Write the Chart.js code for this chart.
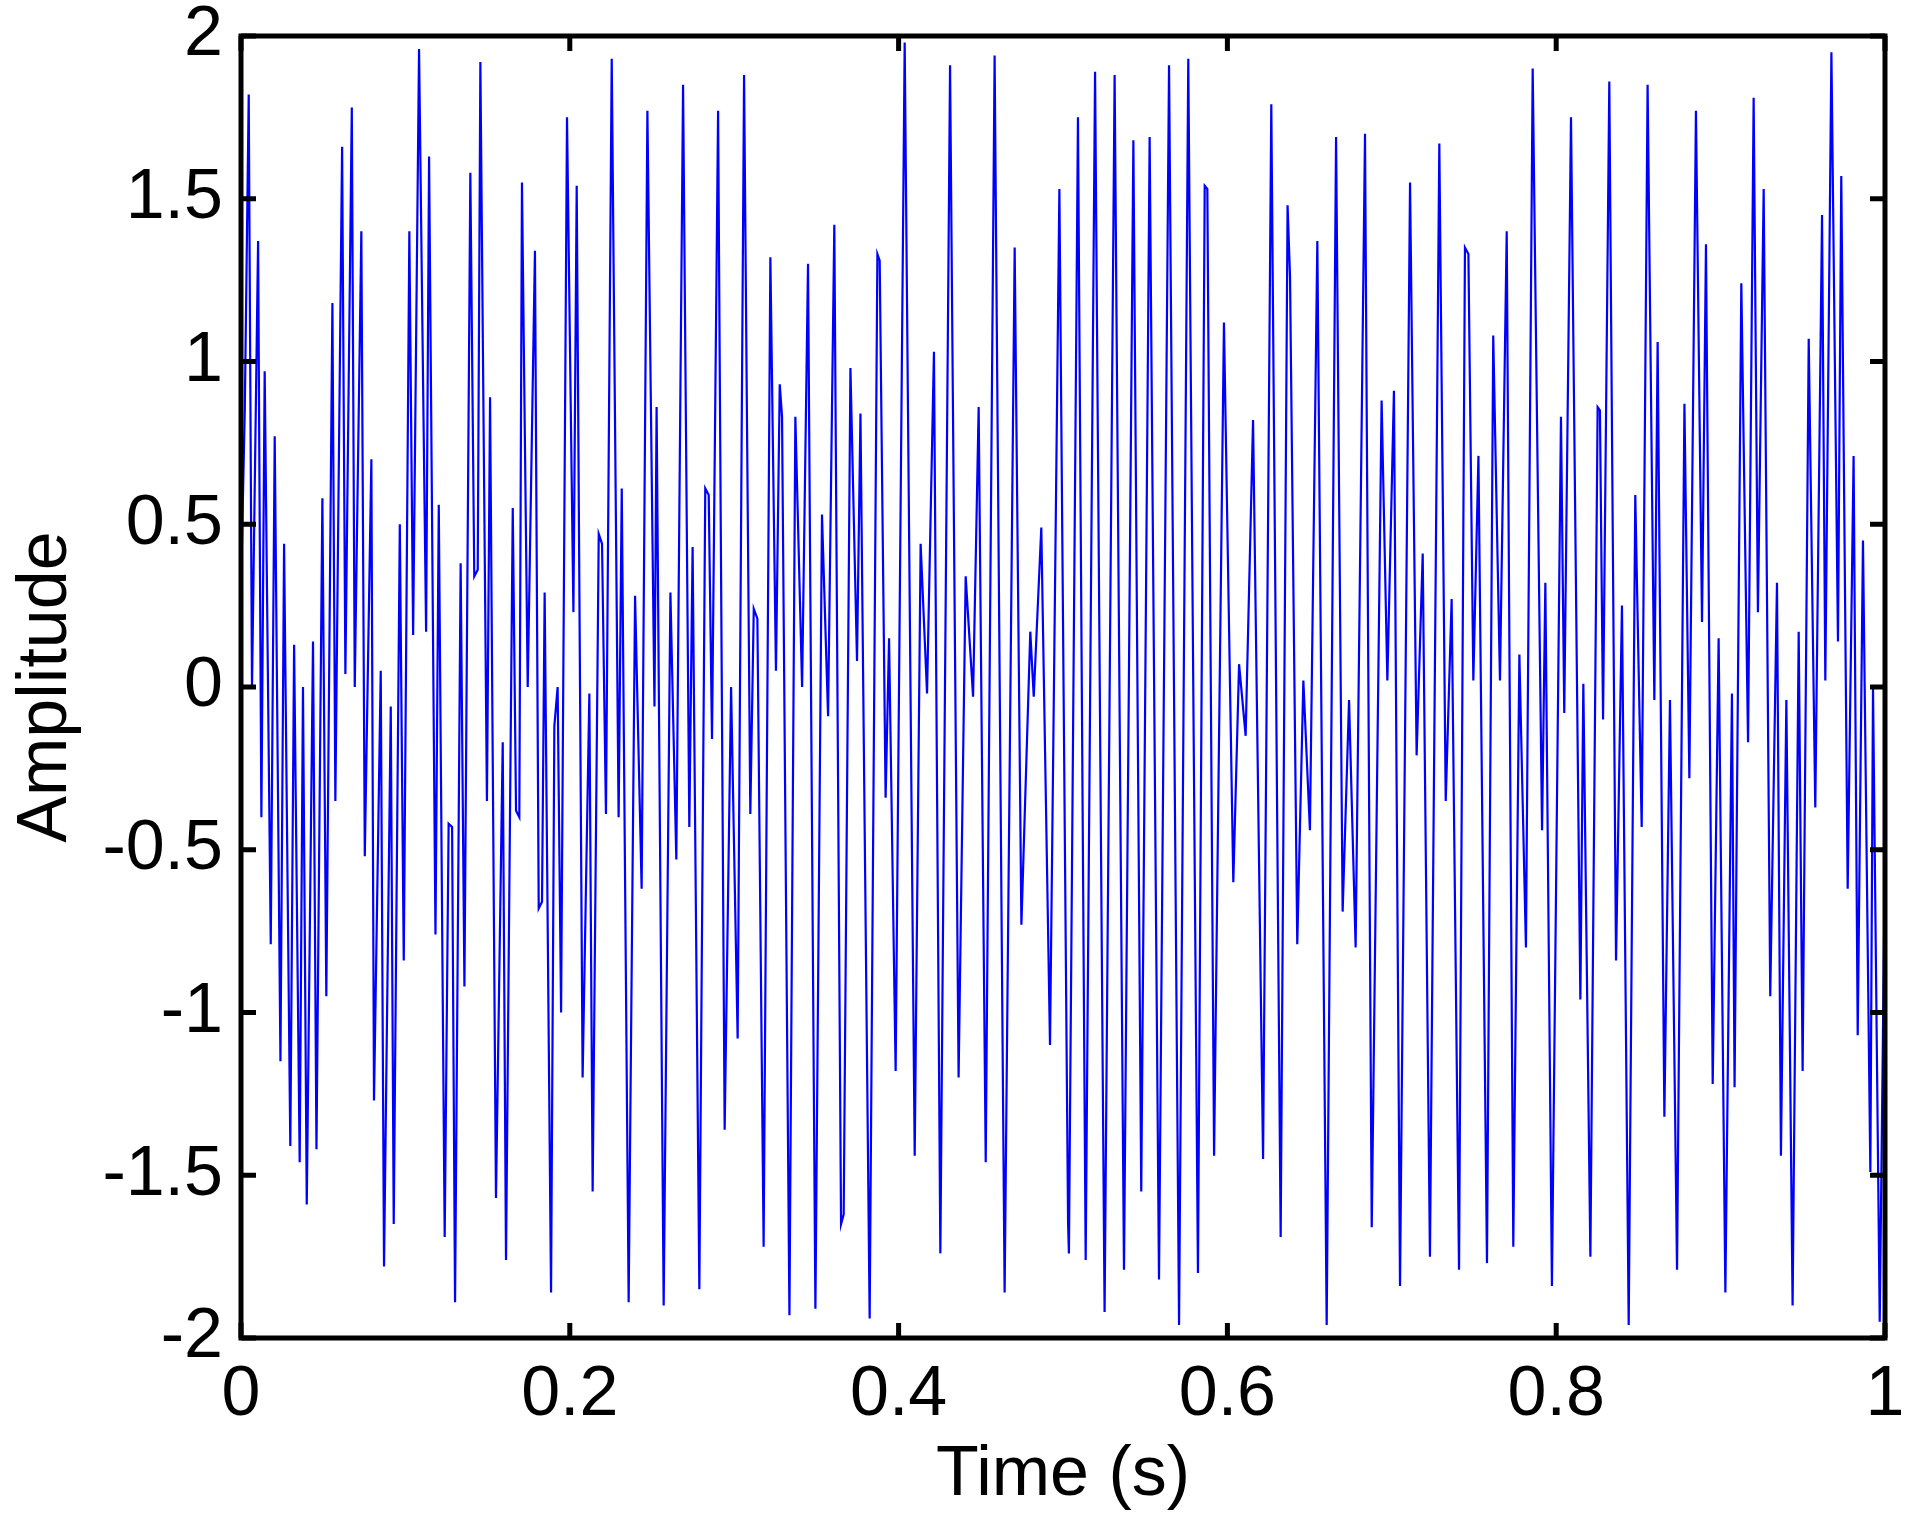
<!DOCTYPE html>
<html>
<head>
<meta charset="utf-8">
<script src="https://cdn.jsdelivr.net/npm/chart.js@4.4.1/dist/chart.umd.min.js"></script>
<style>
  html, body { margin: 0; padding: 0; background: #fff; }
  #wrap { width: 1912px; height: 1524px; position: relative; }
</style>
</head>
<body>
<div id="wrap"><canvas id="signalCanvas"></canvas></div>
<script>
// time of each turning point of the trace (s)
var timeS = [
	0, 0.0023, 0.0047, 0.0067, 0.0104, 0.0124, 0.0144, 0.0181, 0.0205, 0.0240, 0.0262, 0.0300, 0.0323, 0.0357, 0.0377,
	0.0400, 0.0438, 0.0459, 0.0495, 0.0519, 0.0556, 0.0574, 0.0615, 0.0635, 0.0674, 0.0692, 0.0732, 0.0753, 0.0793,
	0.0809, 0.0850, 0.0870, 0.0911, 0.0929, 0.0966, 0.0990, 0.1024, 0.1047, 0.1083, 0.1126, 0.1144, 0.1183, 0.1203, 0.1239,
	0.1263, 0.1284, 0.1302, 0.1336, 0.1359, 0.1395, 0.1419, 0.1440, 0.1456, 0.1496, 0.1515, 0.1551, 0.1592, 0.1612,
	0.1653, 0.1673, 0.1693, 0.1709, 0.1744, 0.1788, 0.1811, 0.1831, 0.1847, 0.1886, 0.1906, 0.1926, 0.1947, 0.1983,
	0.2022, 0.2042, 0.2078, 0.2119, 0.2139, 0.2176, 0.2196, 0.2220, 0.2255, 0.2297, 0.2316, 0.2358, 0.2397, 0.2437, 0.2472, 0.2515,
	0.2528, 0.2571, 0.2612, 0.2648, 0.2689, 0.2727, 0.2747, 0.2788, 0.2824, 0.2845, 0.2865, 0.2902, 0.2942, 0.2981,
	0.3021, 0.3060, 0.3098, 0.3119, 0.3141, 0.3179, 0.3220, 0.3254, 0.3277, 0.3291, 0.3336, 0.3372, 0.3413, 0.3449,
	0.3494, 0.3534, 0.3571, 0.3609, 0.3650, 0.3666, 0.3707, 0.3747, 0.3768,
	0.3824, 0.3871, 0.3885, 0.3921, 0.3942, 0.3982, 0.4037, 0.4098, 0.4134, 0.4173, 0.4215, 0.4254, 0.4313, 0.4365,
	0.4408, 0.4453, 0.4487, 0.4530, 0.4584, 0.4645, 0.4706, 0.4747, 0.4801, 0.4822, 0.4868, 0.4921, 0.4978, 0.5031,
	0.5036, 0.5091, 0.5138, 0.5195, 0.5253, 0.5314, 0.5371, 0.5428, 0.5476, 0.5527, 0.5584, 0.5645, 0.5706, 0.5762,
	0.5821, 0.5862, 0.5878, 0.5919, 0.5979, 0.6036, 0.6071, 0.6111, 0.6156, 0.6217, 0.6267,
	0.6324, 0.6366, 0.6381, 0.6425, 0.6462, 0.6502, 0.6547, 0.6604, 0.6661, 0.6701, 0.6740, 0.6780, 0.6837, 0.6878,
	0.6938, 0.6973, 0.7013, 0.7050, 0.7111, 0.7151, 0.7188, 0.7232, 0.7289, 0.7328, 0.7364, 0.7409, 0.7445, 0.7466, 0.7496, 0.7527,
	0.7579, 0.7617, 0.7658, 0.7699, 0.7739, 0.7776, 0.7816, 0.7857, 0.7914, 0.7934, 0.7974, 0.8029, 0.8049, 0.8090,
	0.8147, 0.8165, 0.8208, 0.8252, 0.8266, 0.8285, 0.8323, 0.8364, 0.8400, 0.8441, 0.8481, 0.8520, 0.8556, 0.8597,
	0.8617, 0.8658, 0.8692, 0.8735, 0.8780,
	0.8810, 0.8850, 0.8887, 0.8911, 0.8952, 0.8988, 0.9029, 0.9069, 0.9085, 0.9126, 0.9167, 0.9201, 0.9227, 0.9262,
	0.9302, 0.9343, 0.9367, 0.9400, 0.9438, 0.9475, 0.9499, 0.9536, 0.9576, 0.9617, 0.9637, 0.9674, 0.9714, 0.9734,
	0.9773, 0.9809, 0.9834, 0.9866, 0.9911, 0.9927, 0.9968, 1.0
];

var amplitude = [
	0.30, 0.85, 1.82, 0.00, 1.37, -0.40, 0.97, -0.79, 0.77, -1.15, 0.44, -1.41, 0.13, -1.46, 0.00,
	-1.59, 0.14, -1.42, 0.58, -0.95, 1.18, -0.35, 1.66, 0.04, 1.78, 0.00, 1.40, -0.52, 0.70,
	-1.27, 0.05, -1.78, -0.06, -1.65, 0.50, -0.84, 1.40, 0.16, 1.96, 0.17, 1.63, -0.76, 0.56, -1.69,
	-0.42, -0.43, -1.89, 0.38, -0.92, 1.58, 0.34, 0.36, 1.92, -0.35, 0.89, -1.57, -0.17, -1.76,
	0.55, -0.38, -0.40, 1.55, 0.00, 1.34, -0.68, -0.66, 0.29, -1.86, -0.12, 0.00, -1.00, 1.75,
	0.23, 1.54, -1.20, -0.02, -1.55, 0.47, 0.44, -0.39, 1.93, -0.40, 0.61, -1.89, 0.28, -0.62, 1.77, -0.06,
	0.86, -1.90, 0.29, -0.53, 1.85, -0.43, 0.43, -1.85, 0.61, 0.59, -0.16, 1.77, -1.36, 0.00,
	-1.08, 1.88, -0.39, 0.24, 0.21, -1.72, 1.32, 0.05, 0.93, 0.83, -1.93, 0.83, 0.00, 1.30,
	-1.91, 0.53, -0.09, 1.42, -1.65, -1.62, 0.98, 0.08, 0.84,
	-1.94, 1.33, 1.31, -0.34, 0.15, -1.18, 1.98, -1.44, 0.44, -0.02, 1.03, -1.74, 1.91, -1.20,
	0.34, -0.03, 0.86, -1.46, 1.94, -1.86, 1.35, -0.73, 0.17, -0.03, 0.49, -1.10, 1.53, -1.65,
	-1.74, 1.75, -1.76, 1.89, -1.92, 1.88, -1.79, 1.68, -1.55, 1.69, -1.82, 1.91, -1.96, 1.93,
	-1.80, 1.54, 1.53, -1.44, 1.12, -0.60, 0.07, -0.15, 0.82, -1.45, 1.79,
	-1.69, 1.48, 1.26, -0.79, 0.02, -0.44, 1.37, -1.96, 1.69, -0.69, -0.04, -0.80, 1.70, -1.66,
	0.88, 0.02, 0.91, -1.84, 1.55, -0.21, 0.41, -1.75, 1.67, -0.35, 0.27, -1.79, 1.35, 1.33, 0.02, 0.71,
	-1.77, 1.08, 0.02, 1.40, -1.72, 0.10, -0.80, 1.90, -0.44, 0.32, -1.84, 0.83, -0.08, 1.75,
	-0.96, 0.01, -1.75, 0.86, 0.85, -0.10, 1.86, -0.84, 0.25, -1.96, 0.59, -0.43, 1.85, -0.04,
	1.06, -1.32, -0.04, -1.79, 0.87,
	-0.28, 1.77, 0.20, 1.36, -1.22, 0.15, -1.86, -0.02, -1.23, 1.24, -0.17, 1.81, 0.23, 1.53,
	-0.95, 0.32, -1.44, -0.04, -1.90, 0.17, -1.18, 1.07, -0.37, 1.45, 0.02, 1.95, 0.14, 1.57,
	-0.62, 0.71, -1.07, 0.45, -1.49, 0.00, -1.95, -0.50
];

var xTickValues = [0, 0.2, 0.4, 0.6, 0.8, 1];
var yTickValues = [-2, -1.5, -1, -0.5, 0, 0.5, 1, 1.5, 2];
var xTitle = 'Time (s)';
var yTitle = 'Amplitude';

var fontFamily = '"Liberation Sans", Arial, Helvetica, sans-serif';

function fmtTick(v) {
	return String(Math.round(v * 10) / 10);
}

// MATLAB style box with inward ticks on all four sides
var boxTicks = {
	id: 'boxTicks',
	afterDatasetsDraw: function(chart) {
		var ctx = chart.ctx;
		var a = chart.chartArea;
		var xs = chart.scales.x;
		var ys = chart.scales.y;
		var len = 15;
		ctx.save();
		ctx.strokeStyle = '#000';
		ctx.lineWidth = 5;
		ctx.beginPath();
		for (var i = 0; i < xs.ticks.length; i++) {
			var px = xs.getPixelForValue(xs.ticks[i].value);
			ctx.moveTo(px, a.bottom); ctx.lineTo(px, a.bottom - len);
			ctx.moveTo(px, a.top); ctx.lineTo(px, a.top + len);
		}
		for (var j = 0; j < ys.ticks.length; j++) {
			var py = ys.getPixelForValue(ys.ticks[j].value);
			ctx.moveTo(a.left, py); ctx.lineTo(a.left + len, py);
			ctx.moveTo(a.right, py); ctx.lineTo(a.right - len, py);
		}
		ctx.stroke();
		ctx.strokeRect(a.left, a.top, a.right - a.left, a.bottom - a.top);
		ctx.restore();
	}
};

var points = [];
for (var k = 0; k < timeS.length; k++) {
	points.push({ x: timeS[k], y: amplitude[k] });
}

var ctx = document.getElementById('signalCanvas').getContext('2d');
var chart = new Chart(ctx, {
	type: 'line',
	data: {
		datasets: [{
			data: points,
			borderColor: '#0000ff',
			borderWidth: 2.2,
			pointRadius: 0,
			tension: 0,
			fill: false
		}]
	},
	options: {
		responsive: true,
		maintainAspectRatio: false,
		devicePixelRatio: 1,
		animation: false,
		events: [],
		layout: { padding: { top: 36, right: 27, left: 0, bottom: 0 } },
		plugins: { legend: { display: false }, tooltip: { enabled: false } },
		scales: {
			x: {
				type: 'linear',
				min: 0,
				max: 1,
				grid: { display: false },
				border: { display: false },
				afterBuildTicks: function(scale) {
					scale.ticks = xTickValues.map(function(v) { return { value: v }; });
				},
				afterFit: function(scale) {
					scale.height = 186;
					scale.paddingLeft = 0;
					scale.paddingRight = 0;
				},
				ticks: {
					color: '#000',
					padding: 8,
					maxRotation: 0,
					autoSkip: false,
					font: { family: fontFamily, size: 70 },
					callback: fmtTick
				},
				title: {
					display: true,
					text: xTitle,
					color: '#000',
					padding: { top: 0, bottom: 6 },
					font: { family: fontFamily, size: 70 }
				}
			},
			y: {
				type: 'linear',
				min: -2,
				max: 2,
				grid: { display: false },
				border: { display: false },
				afterBuildTicks: function(scale) {
					scale.ticks = yTickValues.map(function(v) { return { value: v }; });
				},
				afterFit: function(scale) {
					scale.width = 241;
					scale.paddingTop = 0;
					scale.paddingBottom = 0;
				},
				ticks: {
					color: '#000',
					padding: 10,
					autoSkip: false,
					font: { family: fontFamily, size: 70 },
					callback: fmtTick
				},
				title: {
					display: true,
					text: yTitle,
					color: '#000',
					padding: { top: 5, bottom: 0 },
					font: { family: fontFamily, size: 70 }
				}
			}
		}
	},
	plugins: [boxTicks]
});
</script>
</body>
</html>
